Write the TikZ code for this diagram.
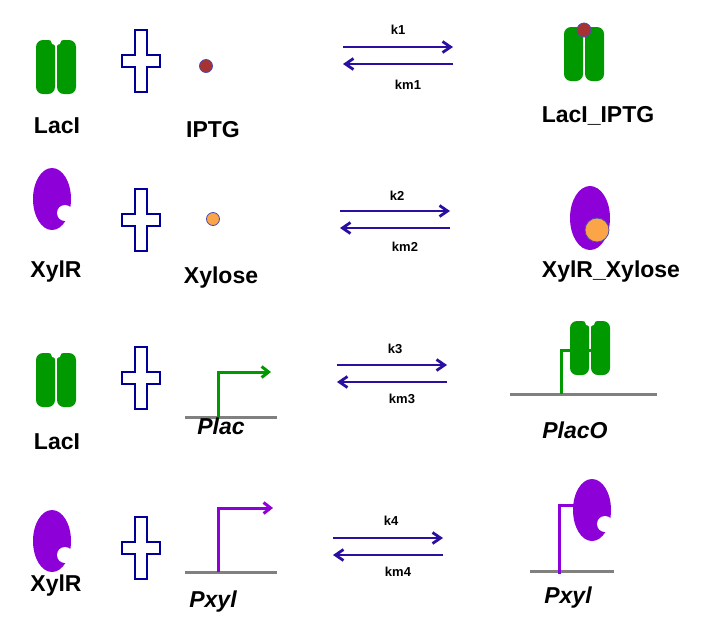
\documentclass[tikz,border=0pt]{standalone}
\usepackage{fontspec}
\setmainfont{Liberation Sans}
\usetikzlibrary{arrows.meta,positioning}
\definecolor{lacgreen}{HTML}{009900}
\definecolor{xylpurple}{HTML}{8E00D8}
\definecolor{arrowblue}{HTML}{2A0FA0}
\definecolor{iptgred}{HTML}{A83232}
\definecolor{xylorange}{HTML}{FBA448}
\tikzset
{
    species/.style = {font=\fontsize{23}{27}\selectfont\bfseries, inner sep=0pt},
    gene/.style    = {font=\fontsize{23}{27}\selectfont\bfseries\itshape, inner sep=0pt},
    rate/.style    = {font=\fontsize{13}{15}\selectfont\bfseries, inner sep=0pt},
    react/.style   = {draw=arrowblue, line width=2.8pt, -{Straight Barb[length=8pt,width=11pt]}},
    dna/.style     = {draw=gray, line width=3pt},
    promoter/.style= {line width=3pt},
    plus/.style    = {draw=blue!60!black, fill=white, line width=1.6pt},
    ligand/.style  = {circle, draw=blue!40!gray, line width=0.8pt, inner sep=0pt}
}
% LacI dimer centred at #1
\newcommand{\lacdimer}[1]{
    \begin{scope}[shift={#1}]
        \fill[lacgreen, rounded corners=7pt] (-20,-27) rectangle (-1,27);
        \fill[lacgreen, rounded corners=7pt] (1,-27) rectangle (20,27);
        \fill[white] (0,-27) circle (5.5);
    \end{scope}
}
% XylR centred at #1
\newcommand{\xylblob}[1]{
    \begin{scope}[shift={#1}]
        \fill[xylpurple] (0,0) ellipse (19 and 31);
        \fill[white] (13,14) circle (8);
    \end{scope}
}
% plus sign centred at #1
\newcommand{\plussign}[1]{
    \begin{scope}[shift={#1}]
        \draw[plus] (-6,-31) -- (6,-31) -- (6,-6) -- (19,-6) -- (19,6) -- (6,6) -- (6,31)
            -- (-6,31) -- (-6,6) -- (-19,6) -- (-19,-6) -- (-6,-6) -- cycle;
    \end{scope}
}
\begin{document}
\begin{tikzpicture}[x=1pt, y=-1pt]
    \useasboundingbox (0,0) rectangle (704,622);
    % row 1
    \lacdimer{(56,67)}
    \node [species] (laci1) at (57,126) {LacI};
    \plussign{(141,61)}
    \node [ligand, fill=iptgred, minimum size=13pt] (iptg) at (206,66) {};
    \node [species] (iptgl) at (213,130) {IPTG};
    \coordinate (f1a) at (343,47); \coordinate (f1b) at (453,47);
    \coordinate (b1a) at (453,64); \coordinate (b1b) at (343,64);
    \draw [react] (f1a) -- (f1b);
    \draw [react] (b1a) -- (b1b);
    \node [rate] (k1) at (398,30) {k1};
    \node [rate] (km1) at (408,85) {km1};
    \lacdimer{(584,54)}
    \node [ligand, fill=iptgred, minimum size=14pt] (iptgp) at (584,30) {};
    \node [species] (lacip) at (598,116) {LacI\_IPTG};
    % row 2
    \xylblob{(52,199)}
    \node [species] (xylr2) at (56,272) {XylR};
    \plussign{(141,220)}
    \node [ligand, fill=xylorange, minimum size=13pt] (xyl) at (213,219) {};
    \node [species] (xyll) at (221,278) {Xylose};
    \coordinate (f2a) at (340,211); \coordinate (f2b) at (450,211);
    \coordinate (b2a) at (450,228); \coordinate (b2b) at (340,228);
    \draw [react] (f2a) -- (f2b);
    \draw [react] (b2a) -- (b2b);
    \node [rate] (k2) at (397,196) {k2};
    \node [rate] (km2) at (405,247) {km2};
    \fill[xylpurple] (590,218) ellipse (20 and 32);
    \node [ligand, fill=xylorange, minimum size=24pt] (xylp) at (597,230) {};
    \node [species] (xylrp) at (611,272) {XylR\_Xylose};
    % row 3
    \lacdimer{(56,380)}
    \node [species] (laci3) at (57,442) {LacI};
    \plussign{(141,378)}
    \coordinate (d3a) at (185,417); \coordinate (d3b) at (277,417);
    \draw [dna] (d3a) -- (d3b);
    \coordinate (p3a) at (218,417); \coordinate (p3b) at (218,372); \coordinate (p3c) at (271,372);
    \draw [promoter, draw=lacgreen, -{Straight Barb[length=7pt,width=11pt]}] (p3a) -- (p3b) -- (p3c);
    \node [gene] (plac) at (221,426) {Plac};
    \coordinate (f3a) at (337,365); \coordinate (f3b) at (447,365);
    \coordinate (b3a) at (447,382); \coordinate (b3b) at (337,382);
    \draw [react] (f3a) -- (f3b);
    \draw [react] (b3a) -- (b3b);
    \node [rate] (k3) at (395,349) {k3};
    \node [rate] (km3) at (402,399) {km3};
    \coordinate (d3c) at (510,394); \coordinate (d3d) at (657,394);
    \draw [dna] (d3c) -- (d3d);
    \coordinate (q3a) at (561,394); \coordinate (q3b) at (561,350); \coordinate (q3c) at (610,350);
    \draw [promoter, draw=lacgreen] (q3a) -- (q3b) -- (q3c);
    \lacdimer{(590,348)}
    \node [gene] (placo) at (575,430) {PlacO};
    % row 4
    \xylblob{(52,541)}
    \node [species] (xylr4) at (56,586) {XylR};
    \plussign{(141,548)}
    \coordinate (d4a) at (185,572); \coordinate (d4b) at (277,572);
    \draw [dna] (d4a) -- (d4b);
    \coordinate (p4a) at (218,572); \coordinate (p4b) at (218,508); \coordinate (p4c) at (273,508);
    \draw [promoter, draw=xylpurple, -{Straight Barb[length=7pt,width=11pt]}] (p4a) -- (p4b) -- (p4c);
    \node [gene] (pxyl) at (213,602) {Pxyl};
    \coordinate (f4a) at (333,538); \coordinate (f4b) at (443,538);
    \coordinate (b4a) at (443,555); \coordinate (b4b) at (333,555);
    \draw [react] (f4a) -- (f4b);
    \draw [react] (b4a) -- (b4b);
    \node [rate] (k4) at (391,521) {k4};
    \node [rate] (km4) at (398,572) {km4};
    \coordinate (d4c) at (530,571); \coordinate (d4d) at (614,571);
    \draw [dna] (d4c) -- (d4d);
    \coordinate (q4a) at (559,574); \coordinate (q4b) at (559,505); \coordinate (q4c) at (580,505);
    \draw [promoter, draw=xylpurple] (q4a) -- (q4b) -- (q4c);
    \xylblob{(592,510)}
    \node [gene] (pxylo) at (568,598) {Pxyl};
\end{tikzpicture}
\end{document}
